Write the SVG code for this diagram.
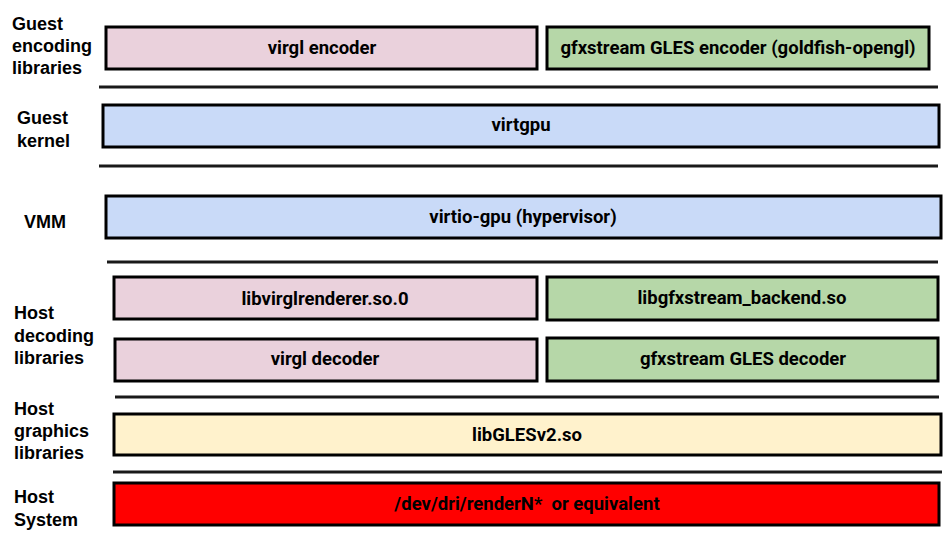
<svg xmlns="http://www.w3.org/2000/svg" width="951" height="549" viewBox="0 0 951 549">
<style>
.bg{fill:#ffffff}
.box{stroke:#000;stroke-width:3}
.pink{fill:#ead1dc}
.green{fill:#b6d7a8}
.blue{fill:#c9daf8}
.cream{fill:#fff2cc}
.red{fill:#ff0000}
.t{font-family:Roboto,"Liberation Sans",sans-serif;font-weight:bold;font-size:18.5px;fill:#000;text-anchor:middle}
.lbl{font-family:"Liberation Sans",Arial,sans-serif;font-weight:bold;font-size:18px;fill:#000}
.sep{stroke:#1a1a1a;stroke-width:3;fill:none}
</style>
<rect class="bg" x="0" y="0" width="951" height="549"/>
<g id="labels">
<text class="lbl" x="12" y="30">Guest</text>
<text class="lbl" x="12" y="52">encoding</text>
<text class="lbl" x="12" y="74">libraries</text>
<text class="lbl" x="17" y="124">Guest</text>
<text class="lbl" x="17" y="147">kernel</text>
<text class="lbl" x="24" y="228">VMM</text>
<text class="lbl" x="14" y="319">Host</text>
<text class="lbl" x="14" y="342">decoding</text>
<text class="lbl" x="14" y="364">libraries</text>
<text class="lbl" x="14" y="415">Host</text>
<text class="lbl" x="14" y="437">graphics</text>
<text class="lbl" x="14" y="459">libraries</text>
<text class="lbl" x="14" y="503">Host</text>
<text class="lbl" x="14" y="526">System</text>
</g>
<g id="separators">
<line class="sep" x1="99" y1="87" x2="938" y2="87"/>
<line class="sep" x1="99" y1="166" x2="938" y2="166"/>
<line class="sep" x1="107" y1="262" x2="938" y2="262"/>
<line class="sep" x1="115" y1="397" x2="939" y2="397"/>
<line class="sep" x1="113" y1="472" x2="942" y2="472"/>
</g>
<g id="virgl-encoder"><rect class="box pink" x="106" y="27" width="431" height="42"/><text class="t" x="322" y="53.5">virgl encoder</text></g>
<g id="gfxstream-encoder"><rect class="box green" x="547" y="27" width="382" height="42"/><text class="t" x="738" y="53.5">gfxstream GLES encoder (goldfish-opengl)</text></g>
<g id="virtgpu"><rect class="box blue" x="103" y="105" width="836" height="42"/><text class="t" x="521" y="131">virtgpu</text></g>
<g id="virtio-gpu"><rect class="box blue" x="106" y="196" width="835" height="42"/><text class="t" x="523" y="223">virtio-gpu (hypervisor)</text></g>
<g id="libvirglrenderer"><rect class="box pink" x="114" y="277" width="423" height="42"/><text class="t" x="325" y="305">libvirglrenderer.so.0</text></g>
<g id="libgfxstream-backend"><rect class="box green" x="547" y="277" width="391" height="43"/><text class="t" x="742" y="304">libgfxstream_backend.so</text></g>
<g id="virgl-decoder"><rect class="box pink" x="115" y="339" width="422" height="42"/><text class="t" x="325" y="365">virgl decoder</text></g>
<g id="gfxstream-decoder"><rect class="box green" x="547" y="338" width="391" height="43"/><text class="t" x="743" y="365">gfxstream GLES decoder</text></g>
<g id="libGLESv2"><rect class="box cream" x="114" y="414" width="827" height="41"/><text class="t" x="527" y="441">libGLESv2.so</text></g>
<g id="renderN"><rect class="box red" x="114" y="483" width="825" height="42"/><text class="t" x="527" y="510" xml:space="preserve">/dev/dri/renderN*  or equivalent</text></g>
</svg>
